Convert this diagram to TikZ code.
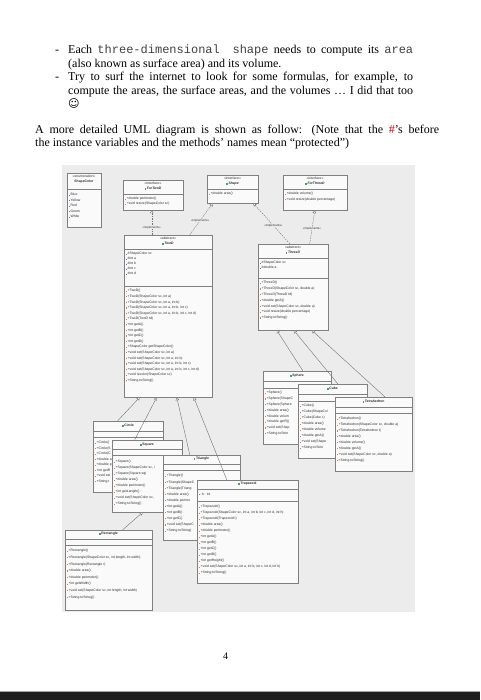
\documentclass[tikz,border=0pt]{standalone}
\usepackage{fontspec}
\setmainfont{Liberation Serif}
\newfontfamily\dsans{Liberation Sans}
\newfontfamily\dmono{Liberation Mono}
\newfontfamily\dvs{DejaVu Sans}
\usetikzlibrary{fit,arrows.meta,calc}
\definecolor{bggray}{HTML}{ECECEC}
\definecolor{boxfill}{HTML}{FAFAFA}
\definecolor{boxline}{HTML}{808080}
\definecolor{txt}{HTML}{2A2A2A}
\definecolor{mcol}{HTML}{D0805A}
\definecolor{acol}{HTML}{5A7FB0}
\definecolor{ccol}{HTML}{4E9A5A}
\newcommand\mi{\textcolor{mcol}{\rule[0.2pt]{1.1pt}{1.1pt}}\kern0.6pt}
\newcommand\ai{\textcolor{acol}{\rule[0.2pt]{1.1pt}{1.1pt}}\kern0.6pt}
\newcommand\ci{\textcolor{ccol}{\rule[0.2pt]{1.4pt}{1.4pt}}\kern0.8pt}
\newcommand\hdiv[2]{\draw[uline] ($(#1.north west)+(0,#2)$) -- ($(#1.north east)+(0,#2)$);}
\begin{document}
\begin{tikzpicture}[x=1pt,y=-1pt,
  ubox/.style={draw=boxline, fill=boxfill, inner sep=0pt, line width=0.5pt},
  uline/.style={draw=boxline, line width=0.4pt},
  hdr/.style={font={\dsans\fontsize{3.4}{5}\selectfont}, text=txt, align=center, inner sep=0pt, anchor=north},
  lst/.style={font={\dsans\fontsize{3.4}{#1}\selectfont}, text=txt, align=left, inner sep=0pt, anchor=north west},
  lst/.default=5.6,
  gen/.style={draw=black!55, line width=0.4pt, -{Triangle[length=3pt,width=3.6pt,fill=white]}},
  real/.style={gen, dash pattern=on 1.5pt off 1pt},
  stereo/.style={font={\dsans\fontsize{2.9}{3}\selectfont}, text=txt, inner sep=0.4pt, fill=bggray},
  body/.style={font=\fontsize{12}{14}\selectfont, inner sep=0pt, anchor=base west}
]
\path[use as bounding box, fill=white] (0,0) rectangle (480,700);

% ---------- text ----------
\node[body] (b1) at (55,54) {-};
\node[body] (t1) at (68,54) {\makebox[345pt][s]{Each {\dmono\color{black!75}three-dimensional shape} needs to compute its {\dmono\color{black!75}area}}};
\node[body] (t2) at (68,67.5) {(also known as surface area) and its volume.};
\node[body] (b2) at (55,81) {-};
\node[body] (t3) at (68,81) {\makebox[345pt][s]{Try to surf the internet to look for some formulas, for example, to}};
\node[body] (t4) at (68,94.5) {\makebox[345pt][s]{compute the areas, the surface areas, and the volumes \dots\ I did that too}};
\node[body] (t5) at (68,108) {{\dvs\fontsize{11}{12}\selectfont ☺}};
\node[body] (p1) at (35,133.5) {\makebox[404pt][s]{A more detailed UML diagram is shown as follow: (Note that the \textcolor{red!80!black}{\#}’s before}};
\node[body] (p2) at (35,147) {the instance variables and the methods’ names mean “protected”)};

% ---------- diagram background ----------
\fill[bggray] (62,165) rectangle (415,612);

% enumeration
\node[ubox, fit={(67,173) (101,227)}] (SC) {};
\node[hdr] (SCh) at ($(SC.north)+(0,2.5)$) {«enumeration»\\\textbf{ShapeColor}};
\hdiv{SC}{16}
\node[lst=5.5] (SCi) at ($(SC.north west)+(2,20.5)$) {\ai Blue\\\ai Yellow\\\ai Red\\\ai Green\\\ai White};

% interfaces
\node[ubox, fit={(123,180) (183,210)}] (F2) {};
\node[hdr] (F2h) at ($(F2.north)+(0,2.5)$) {«interface»\\\ci\textbf{\textit{ForTwoD}}};
\hdiv{F2}{14}
\node[lst=5] (F2m) at ($(F2.north west)+(2,17.5)$) {\mi+double perimeter()\\\mi+void resize(ShapeColor sc)};

\node[ubox, fit={(207,175) (258,203)}] (SH) {};
\node[hdr] (SHh) at ($(SH.north)+(0,2.5)$) {«interface»\\\ci\textbf{\textit{Shape}}};
\hdiv{SH}{14}
\node[lst] (SHm) at ($(SH.north west)+(2,17.5)$) {\mi+double area()};

\node[ubox, fit={(283,175) (347,210)}] (F3) {};
\node[hdr] (F3h) at ($(F3.north)+(0,2.5)$) {«interface»\\\ci\textbf{\textit{ForThreeD}}};
\hdiv{F3}{14}
\node[lst=5.5] (F3m) at ($(F3.north west)+(2,17.5)$) {\mi+double volume()\\\mi+void resize(double percentage)};

% TwoD
\node[ubox, fit={(124,235) (212,397)}] (TD) {};
\node[hdr] (TDh) at ($(TD.north)+(0,2.5)$) {«abstract»\\\ci\textbf{\textit{TwoD}}};
\hdiv{TD}{14}
\node[lst=5] (TDa) at ($(TD.north west)+(2,17.5)$) {\ai\#ShapeColor sc\\\ai\#int a\\\ai\#int b\\\ai\#int c\\\ai\#int d};
\hdiv{TD}{51}
\node[lst=5.6] (TDm) at ($(TD.north west)+(2,54.5)$) {\mi+TwoD()\\\mi+TwoD(ShapeColor sc, int a)\\\mi+TwoD(ShapeColor sc, int a, int b)\\\mi+TwoD(ShapeColor sc, int a, int b, int c)\\\mi+TwoD(ShapeColor sc, int a, int b, int c, int d)\\\mi+TwoD(TwoD td)\\\mi+int getA()\\\mi+int getB()\\\mi+int getC()\\\mi+int getD()\\\mi+ShapeColor getShapeColor()\\\mi+void set(ShapeColor sc, int a)\\\mi+void set(ShapeColor sc, int a, int b)\\\mi+void set(ShapeColor sc, int a, int b, int c)\\\mi+void set(ShapeColor sc, int a, int b, int c, int d)\\\mi+void recolor(ShapeColor sc)\\\mi+String toString()};

% ThreeD
\node[ubox, fit={(258,244) (328,330)}] (HD) {};
\node[hdr] (HDh) at ($(HD.north)+(0,2.5)$) {«abstract»\\\ci\textbf{\textit{ThreeD}}};
\hdiv{HD}{14}
\node[lst=5] (HDa) at ($(HD.north west)+(2,17.5)$) {\ai\#ShapeColor sc\\\ai\#double a};
\hdiv{HD}{34}
\node[lst=5.8] (HDm) at ($(HD.north west)+(2,37.5)$) {\mi+ThreeD()\\\mi+ThreeD(ShapeColor sc, double a)\\\mi+ThreeD(ThreeD td)\\\mi+double getA()\\\mi+void set(ShapeColor sc, double a)\\\mi+void resize(double percentage)\\\mi+String toString()};

% Circle (mostly hidden behind Square)
\node[ubox, fit={(93,421) (163,492)}] (CI) {};
\node[hdr] (CIh) at ($(CI.north)+(0,3.5)$) {\ci\textbf{Circle}};
\hdiv{CI}{10}\hdiv{CI}{16}
\node[lst=5.5] (CIm) at ($(CI.north west)+(2,20.5)$) {\mi+Circle()\\\mi+Circle(S\\\mi+Circle(C\\\mi+double a\\\mi+double p\\\mi+int getR\\\mi+void set\\\mi+String t};

% Square
\node[ubox, fit={(112,440) (182,512)}] (SQ) {};
\node[hdr] (SQh) at ($(SQ.north)+(0,3.5)$) {\ci\textbf{Square}};
\hdiv{SQ}{9.5}\hdiv{SQ}{15}
\node[lst=6] (SQm) at ($(SQ.north west)+(2,20.5)$) {\mi+Square()\\\mi+Square(ShapeColor sc, i\\\mi+Square(Square sq)\\\mi+double area()\\\mi+double perimeter()\\\mi+int getLength()\\\mi+void set(ShapeColor sc,\\\mi+String toString()};

% Triangle
\node[ubox, fit={(163,455) (240,540)}] (TR) {};
\node[hdr] (TRh) at ($(TR.north)+(0,2.5)$) {\ci\textbf{Triangle}};
\hdiv{TR}{9}\hdiv{TR}{15}
\node[lst=6.1] (TRm) at ($(TR.north west)+(2,19.5)$) {\mi+Triangle()\\\mi+Triangle(ShapeC\\\mi+Triangle(Triang\\\mi+double area()\\\mi+double perime\\\mi+int getA()\\\mi+int getB()\\\mi+int getC()\\\mi+void set(ShapeC\\\mi+String toString(};

% Trapezoid
\node[ubox, fit={(197,480) (298,583)}] (TZ) {};
\node[hdr] (TZh) at ($(TZ.north)+(0,2.5)$) {\ci\textbf{Trapezoid}};
\hdiv{TZ}{9}
\node[lst] (TZa) at ($(TZ.north west)+(2,13)$) {\ai-h : int};
\hdiv{TZ}{21}
\node[lst=6] (TZm) at ($(TZ.north west)+(2,25.5)$) {\mi+Trapezoid()\\\mi+Trapezoid(ShapeColor sc, int a, int b, int c, int d, int h)\\\mi+Trapezoid(Trapezoid t)\\\mi+double area()\\\mi+double perimeter()\\\mi+int getA()\\\mi+int getB()\\\mi+int getC()\\\mi+int getD()\\\mi+int getHeight()\\\mi+void set(ShapeColor sc, int a, int b, int c, int d, int h)\\\mi+String toString()};

% Rectangle
\node[ubox, fit={(65,530) (152,610)}] (RE) {};
\node[hdr] (REh) at ($(RE.north)+(0,2.5)$) {\ci\textbf{Rectangle}};
\hdiv{RE}{9}\hdiv{RE}{15}
\node[lst=6.6] (REm) at ($(RE.north west)+(2,19.5)$) {\mi+Rectangle()\\\mi+Rectangle(ShapeColor sc, int length, int width)\\\mi+Rectangle(Rectangle r)\\\mi+double area()\\\mi+double perimeter()\\\mi+int getWidth()\\\mi+void set(ShapeColor sc, int length, int width)\\\mi+String toString()};

% Sphere
\node[ubox, fit={(263,371) (331,444)}] (SP) {};
\node[hdr] (SPh) at ($(SP.north)+(0,3.5)$) {\ci\textbf{Sphere}};
\hdiv{SP}{10}\hdiv{SP}{17}
\node[lst=5.8] (SPm) at ($(SP.north west)+(2,20.5)$) {\mi+Sphere()\\\mi+Sphere(ShapeC\\\mi+Sphere(Sphere\\\mi+double area()\\\mi+double volum\\\mi+double getR()\\\mi+void set(Shap\\\mi+String toStrin};

% Cube
\node[ubox, fit={(298,384) (367,458)}] (CU) {};
\node[hdr] (CUh) at ($(CU.north)+(0,3.5)$) {\ci\textbf{Cube}};
\hdiv{CU}{10}\hdiv{CU}{17}
\node[lst=6] (CUm) at ($(CU.north west)+(2,20.5)$) {\mi+Cube()\\\mi+Cube(ShapeCol\\\mi+Cube(Cube c)\\\mi+double area()\\\mi+double volume\\\mi+double getA()\\\mi+void set(Shape\\\mi+String toStrin};

% Tetrahedron
\node[ubox, fit={(335,397) (412,471)}] (TE) {};
\node[hdr] (TEh) at ($(TE.north)+(0,3.5)$) {\ci\textbf{Tetrahedron}};
\hdiv{TE}{10}\hdiv{TE}{16}
\node[lst=5.9] (TEm) at ($(TE.north west)+(2,20.5)$) {\mi+Tetrahedron()\\\mi+Tetrahedron(ShapeColor sc, double a)\\\mi+Tetrahedron(Tetrahedron t)\\\mi+double area()\\\mi+double volume()\\\mi+double getA()\\\mi+void set(ShapeColor sc, double a)\\\mi+String toString()};

% ---------- connectors ----------
\draw[real] ([xshift=28pt]TD.north west) -- ([xshift=29pt]F2.south west) node[stereo, pos=0.3] (i1) {«implements»};
\draw[real] ([xshift=66pt]TD.north west) -- ([xshift=6pt]SH.south west) node[stereo, pos=0.45] (i2) {«implements»};
\draw[real] ([xshift=32pt]HD.north west) -- ([xshift=-5pt]SH.south east) node[stereo, pos=0.45] (i3) {«implements»};
\draw[real] ([xshift=52pt]HD.north west) -- ([xshift=32pt]F3.south west) node[stereo, pos=0.45] (i4) {«implements»};

\draw[gen] ([xshift=25pt]CI.north west) -- ([xshift=16pt]TD.south west);
\draw[gen] ([xshift=23pt]SQ.north west) -- ([xshift=33pt]TD.south west);
\draw[gen] ([xshift=27pt]TR.north west) -- ([xshift=53pt]TD.south west);
\draw[gen] ([xshift=30pt]TZ.north west) -- ([xshift=70pt]TD.south west);
\draw[gen] ([xshift=58pt]RE.north west) -- ([xshift=31pt]SQ.south west);
\draw[gen] ([xshift=40pt]SP.north west) -- ([xshift=19pt]HD.south west);
\draw[gen] ([xshift=40pt]CU.north west) -- ([xshift=36pt]HD.south west);
\draw[gen] ([xshift=50pt]TE.north west) -- ([xshift=54pt]HD.south west);

% ---------- page foot ----------
\node[body, font=\fontsize{10}{12}\selectfont] (pg) at (223,659) {4};
\fill[black!88] (0,692) rectangle (480,700);
\draw[black!35, line width=0.6pt] (0,691.7) -- (480,691.7);
\end{tikzpicture}
\end{document}
